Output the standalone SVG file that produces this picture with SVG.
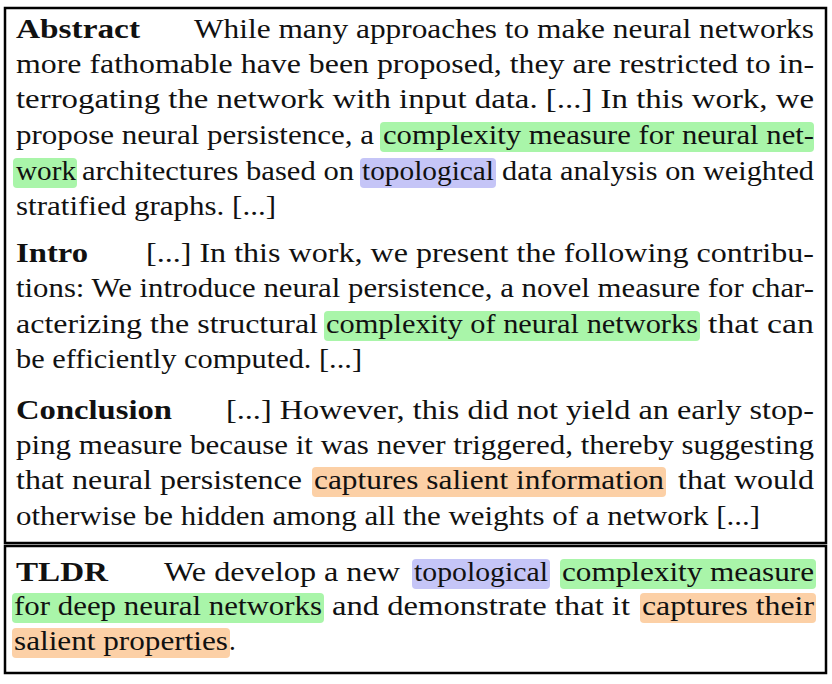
<svg xmlns="http://www.w3.org/2000/svg" width="832" height="684" viewBox="0 0 832 684" font-family="'Liberation Serif', 'Times New Roman', Tinos, serif">
<style>
text{font-family:"Liberation Serif","Times New Roman",Tinos,serif;font-size:27px;fill:#111}
.b{font-weight:bold}
.box{fill:none;stroke:#000;stroke-width:2.5}
.g{fill:#a9f5a9}.bl{fill:#c5c5f7}.o{fill:#fcd0a6}
</style>
<rect width="832" height="684" fill="#fff"/>
<g id="highlights">
<rect class="g" x="380" y="122" width="434" height="30" rx="4"/>
<rect class="g" x="13" y="158" width="64" height="30" rx="4"/>
<rect class="bl" x="360" y="158" width="136" height="30" rx="4"/>
<rect class="g" x="324" y="311" width="376" height="30" rx="4"/>
<rect class="o" x="312" y="467" width="354" height="30" rx="4"/>
<rect class="bl" x="412" y="559" width="138" height="30" rx="4"/>
<rect class="g" x="560" y="559" width="256" height="30" rx="4"/>
<rect class="g" x="12" y="593" width="312" height="30" rx="4"/>
<rect class="o" x="640" y="593" width="176" height="30" rx="4"/>
<rect class="o" x="12" y="628" width="218" height="30" rx="4"/>
</g>
<g id="abstract-box">
<rect class="box" x="5" y="8" width="821" height="535"/>
<text class="b" x="16" y="38" textLength="124" lengthAdjust="spacingAndGlyphs">Abstract</text>
<text x="194" y="38" textLength="620" lengthAdjust="spacingAndGlyphs">While many approaches to make neural networks</text>
<text x="16" y="73" textLength="798" lengthAdjust="spacingAndGlyphs">more fathomable have been proposed, they are restricted to in-</text>
<text x="16" y="108" textLength="798" lengthAdjust="spacingAndGlyphs">terrogating the network with input data. [...] In this work, we</text>
<text x="16" y="144" textLength="358" lengthAdjust="spacingAndGlyphs">propose neural persistence, a</text>
<text x="383" y="144" textLength="431" lengthAdjust="spacingAndGlyphs">complexity measure for neural net-</text>
<text x="16" y="180" textLength="60" lengthAdjust="spacingAndGlyphs">work</text>
<text x="82" y="180" textLength="272" lengthAdjust="spacingAndGlyphs">architectures based on</text>
<text x="362" y="180" textLength="132" lengthAdjust="spacingAndGlyphs">topological</text>
<text x="502" y="180" textLength="312" lengthAdjust="spacingAndGlyphs">data analysis on weighted</text>
<text x="16" y="215" textLength="260" lengthAdjust="spacingAndGlyphs">stratified graphs. [...]</text>
<text class="b" x="16" y="262" textLength="72" lengthAdjust="spacingAndGlyphs">Intro</text>
<text x="146" y="262" textLength="668" lengthAdjust="spacingAndGlyphs">[...] In this work, we present the following contribu-</text>
<text x="16" y="297" textLength="798" lengthAdjust="spacingAndGlyphs">tions: We introduce neural persistence, a novel measure for char-</text>
<text x="16" y="333" textLength="302" lengthAdjust="spacingAndGlyphs">acterizing the structural</text>
<text x="326" y="333" textLength="372" lengthAdjust="spacingAndGlyphs">complexity of neural networks</text>
<text x="708" y="333" textLength="106" lengthAdjust="spacingAndGlyphs">that can</text>
<text x="16" y="368" textLength="346" lengthAdjust="spacingAndGlyphs">be efficiently computed. [...]</text>
<text class="b" x="16" y="419" textLength="156" lengthAdjust="spacingAndGlyphs">Conclusion</text>
<text x="226" y="419" textLength="588" lengthAdjust="spacingAndGlyphs">[...] However, this did not yield an early stop-</text>
<text x="16" y="454" textLength="798" lengthAdjust="spacingAndGlyphs">ping measure because it was never triggered, thereby suggesting</text>
<text x="16" y="489" textLength="286" lengthAdjust="spacingAndGlyphs">that neural persistence</text>
<text x="314" y="489" textLength="350" lengthAdjust="spacingAndGlyphs">captures salient information</text>
<text x="678" y="489" textLength="136" lengthAdjust="spacingAndGlyphs">that would</text>
<text x="16" y="525" textLength="744" lengthAdjust="spacingAndGlyphs">otherwise be hidden among all the weights of a network [...]</text>
</g>
<g id="tldr-box">
<rect class="box" x="5" y="546" width="821" height="127"/>
<text class="b" x="16" y="581" textLength="92" lengthAdjust="spacingAndGlyphs">TLDR</text>
<text x="164" y="581" textLength="236" lengthAdjust="spacingAndGlyphs">We develop a new</text>
<text x="414" y="581" textLength="134" lengthAdjust="spacingAndGlyphs">topological</text>
<text x="562" y="581" textLength="252" lengthAdjust="spacingAndGlyphs">complexity measure</text>
<text x="14" y="615" textLength="308" lengthAdjust="spacingAndGlyphs">for deep neural networks</text>
<text x="332" y="615" textLength="298" lengthAdjust="spacingAndGlyphs">and demonstrate that it</text>
<text x="642" y="615" textLength="172" lengthAdjust="spacingAndGlyphs">captures their</text>
<text x="14" y="650" textLength="214" lengthAdjust="spacingAndGlyphs">salient properties</text>
<text x="229" y="650">.</text>
</g>
</svg>
